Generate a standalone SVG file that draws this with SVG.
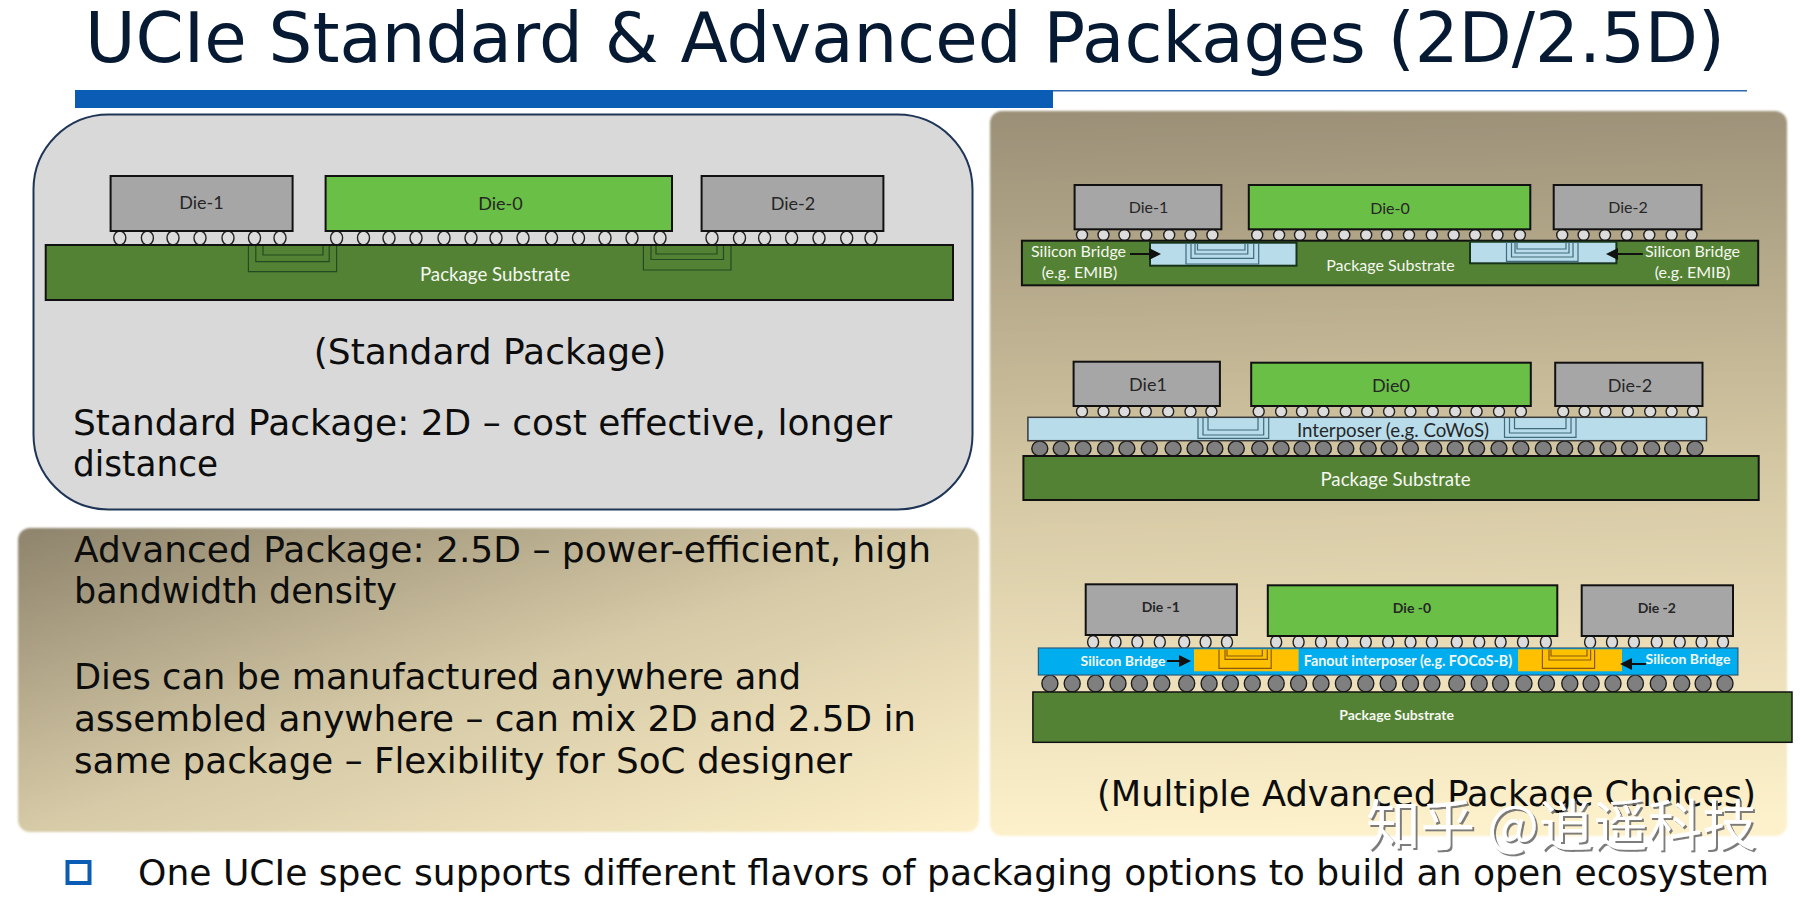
<svg xmlns="http://www.w3.org/2000/svg" width="1801" height="897" viewBox="0 0 1801 897">
<style>
.h{font-family:"DejaVu Sans","Liberation Sans",sans-serif;fill:#0d0d0d;font-size:36px}
.t{font-family:"DejaVu Sans","Liberation Sans",sans-serif;fill:#071a33;font-size:69px}
.l{font-family:Lato,"Open Sans",sans-serif;font-size:18px;text-anchor:middle;dominant-baseline:middle}
.p{font-size:18.7px}
.s{font-size:16px}
.dk{fill:#262626}.wh{fill:#f4f7f0}
.b{font-weight:700;font-size:14px}
.gray{fill:#a6a6a6;stroke:#111;stroke-width:2}
.green{fill:#6abf46;stroke:#111;stroke-width:2}
.sub{fill:#548235;stroke:#111;stroke-width:2}
.bridge{fill:#b8dcea;stroke:#17331a;stroke-width:2}
.bump{fill:#dcdcdc;stroke:#222;stroke-width:1.4}
.big{fill:#7f7f7f;stroke:#1c1c1c;stroke-width:1.4}
.tr{fill:none;stroke:#234a20;stroke-width:1.2}
.tb{fill:none;stroke:#3f6b7a;stroke-width:1.2}
.to{fill:none;stroke:#8a5a10;stroke-width:1.2}
.arr{fill:none;stroke:#111;stroke-width:2;marker-end:url(#ah)}
</style>
<defs>
<linearGradient id="g1" x1="0" y1="0" x2="0.03" y2="1"><stop offset="0" stop-color="#9b9077"/><stop offset="0.5" stop-color="#d3c6a2"/><stop offset="1" stop-color="#fdf1cb"/></linearGradient>
<linearGradient id="g2" x1="0" y1="0" x2="1" y2="1"><stop offset="0" stop-color="#8e846c"/><stop offset="0.5" stop-color="#d6caa7"/><stop offset="1" stop-color="#fdf0c8"/></linearGradient>
<marker id="ah" markerWidth="6" markerHeight="6" refX="5" refY="3" orient="auto" markerUnits="strokeWidth"><path d="M0 0L6 3L0 6z" fill="#111"/></marker>
<filter id="soft" x="-2%" y="-2%" width="104%" height="104%"><feGaussianBlur stdDeviation="1.300"/></filter>
<filter id="wm" x="-5%" y="-10%" width="110%" height="120%"><feDropShadow dx="2" dy="2" stdDeviation="0.6" flood-color="#6e6e6e" flood-opacity="0.9"/></filter>
<ellipse id="s1" class="bump" rx="6" ry="7"/>
<ellipse id="s2" class="bump" rx="5.500" ry="5.500"/>
<ellipse id="s3" class="bump" rx="5.500" ry="6.500"/>
<ellipse id="b2" class="big" rx="8" ry="7.500"/>
<ellipse id="b3" class="big" rx="8" ry="8.500"/>
</defs>
<rect width="1801" height="897" fill="#fff"/>

<g id="title">
<text class="t" x="85" y="62" textLength="1640" lengthAdjust="spacingAndGlyphs">UCIe Standard &amp; Advanced Packages (2D/2.5D)</text>
<rect x="75" y="90" width="978" height="18" fill="#0a5cb5"/>
<rect x="1053" y="90" width="694" height="1.500" fill="#2f68ad"/>
</g>

<g id="panel-standard">
<rect x="33.500" y="114.500" width="939" height="395" rx="75" fill="#d9d9d9" stroke="#1f3557" stroke-width="2"/>
<text class="h" x="490" y="364" text-anchor="middle">(Standard Package)</text>
<text class="h" x="73" y="435" textLength="819" lengthAdjust="spacingAndGlyphs">Standard Package: 2D – cost effective, longer</text>
<text class="h" x="73" y="476" textLength="145" lengthAdjust="spacingAndGlyphs">distance</text>
</g>

<g id="panel-advanced-text">
<rect x="18" y="528" width="961" height="304" rx="12" fill="url(#g2)" filter="url(#soft)"/>
<text class="h" x="74" y="562" textLength="857" lengthAdjust="spacingAndGlyphs">Advanced Package: 2.5D – power-efficient, high</text>
<text class="h" x="74" y="603" textLength="323" lengthAdjust="spacingAndGlyphs">bandwidth density</text>
<text class="h" x="74" y="689" textLength="727" lengthAdjust="spacingAndGlyphs">Dies can be manufactured anywhere and</text>
<text class="h" x="74" y="731" textLength="842" lengthAdjust="spacingAndGlyphs">assembled anywhere – can mix 2D and 2.5D in</text>
<text class="h" x="74" y="773" textLength="778" lengthAdjust="spacingAndGlyphs">same package – Flexibility for SoC designer</text>
</g>

<g id="panel-multiple">
<rect x="990" y="111" width="797" height="725" rx="12" fill="url(#g1)" filter="url(#soft)"/>
<text class="h" x="1097" y="806" textLength="659" lengthAdjust="spacingAndGlyphs">(Multiple Advanced Package Choices)</text>
</g>

<g id="standard-stack">
<g id="std-bumps">
<use href="#s1" x="119.800" y="238"/><use href="#s1" x="147.400" y="238"/><use href="#s1" x="173" y="238"/><use href="#s1" x="200" y="238"/><use href="#s1" x="228" y="238"/><use href="#s1" x="254.500" y="238"/><use href="#s1" x="280" y="238"/>
<use href="#s1" x="336.600" y="238"/><use href="#s1" x="363.500" y="238"/><use href="#s1" x="389" y="238"/><use href="#s1" x="416" y="238"/><use href="#s1" x="444" y="238"/><use href="#s1" x="471" y="238"/><use href="#s1" x="496" y="238"/><use href="#s1" x="523" y="238"/><use href="#s1" x="551.500" y="238"/><use href="#s1" x="578.500" y="238"/><use href="#s1" x="605" y="238"/><use href="#s1" x="632" y="238"/><use href="#s1" x="660" y="238"/>
<use href="#s1" x="712" y="238"/><use href="#s1" x="739.500" y="238"/><use href="#s1" x="764.600" y="238"/><use href="#s1" x="791.600" y="238"/><use href="#s1" x="819" y="238"/><use href="#s1" x="846.700" y="238"/><use href="#s1" x="871" y="238"/>
</g>
<g id="std-die-1"><rect class="gray" x="110.600" y="176" width="182" height="55"/><text class="l dk" x="201.500" y="204">Die-1</text></g>
<g id="std-die-0"><rect class="green" x="325.600" y="176" width="346.400" height="55"/><text class="l dk" x="500.500" y="205">Die-0</text></g>
<g id="std-die-2"><rect class="gray" x="701.600" y="176" width="181.800" height="55"/><text class="l dk" x="793" y="205">Die-2</text></g>
<g id="std-substrate"><rect class="sub" x="45.700" y="245" width="907.300" height="55"/><text class="l wh p" x="495" y="276.500">Package Substrate</text>
<path class="tr" d="M248.400 246V271.700H336.600V246M255.800 246V261.700H329.200V246M263 246V255H323V246"/>
<path class="tr" d="M643.400 246V270H731V246M651 246V259.500H723.500V246M656 246V254H717V246"/>
</g>
</g>

<g id="emib-stack">
<g id="emib-bumps">
<use href="#s2" x="1082" y="235"/><use href="#s2" x="1103.500" y="235"/><use href="#s2" x="1124.400" y="235"/><use href="#s2" x="1146.300" y="235"/><use href="#s2" x="1169.200" y="235"/><use href="#s2" x="1190.500" y="235"/><use href="#s2" x="1212.400" y="235"/>
<use href="#s2" x="1257.200" y="235"/><use href="#s2" x="1279.100" y="235"/><use href="#s2" x="1300" y="235"/><use href="#s2" x="1321.900" y="235"/><use href="#s2" x="1344.300" y="235"/><use href="#s2" x="1366.200" y="235"/><use href="#s2" x="1387" y="235"/><use href="#s2" x="1409" y="235"/><use href="#s2" x="1431.800" y="235"/><use href="#s2" x="1453.700" y="235"/><use href="#s2" x="1475.100" y="235"/><use href="#s2" x="1497.500" y="235"/><use href="#s2" x="1519.900" y="235"/>
<use href="#s2" x="1562.200" y="235"/><use href="#s2" x="1583.600" y="235"/><use href="#s2" x="1605" y="235"/><use href="#s2" x="1626.900" y="235"/><use href="#s2" x="1649.300" y="235"/><use href="#s2" x="1671.600" y="235"/><use href="#s2" x="1691.500" y="235"/>
</g>
<g id="emib-die-1"><rect class="gray" x="1074.600" y="185" width="146.800" height="44.300"/><text class="l dk s" x="1148.500" y="209">Die-1</text></g>
<g id="emib-die-0"><rect class="green" x="1248.800" y="185" width="281.500" height="44.300"/><text class="l dk s" x="1390" y="210">Die-0</text></g>
<g id="emib-die-2"><rect class="gray" x="1553.700" y="185" width="147.800" height="44.300"/><text class="l dk s" x="1628" y="209">Die-2</text></g>
<g id="emib-substrate"><rect class="sub" x="1021.900" y="240.700" width="736.300" height="44.600"/><text class="l wh s" x="1390.500" y="267">Package Substrate</text></g>
<g id="emib-bridge-left"><rect class="bridge" x="1150" y="242.700" width="146.500" height="23"/>
<path class="tb" d="M1186 243V264H1258.700V243M1191 243V258.300H1253.700V243M1195 243V254H1247.800V243M1197.500 243V250H1245V243"/>
<text class="l wh s" x="1078.500" y="253">Silicon Bridge</text><text class="l wh s" x="1079.500" y="274">(e.g. EMIB)</text></g>
<g id="emib-bridge-right"><rect class="bridge" x="1470" y="241.700" width="146.400" height="21.600"/>
<path class="tb" d="M1506.500 242V261.300H1578V242M1511.500 242V257H1573V242M1515 242V253H1569V242M1517 242V249H1566V242"/>
<text class="l wh s" x="1692.500" y="253">Silicon Bridge</text><text class="l wh s" x="1692.500" y="274">(e.g. EMIB)</text></g>
</g>

<g id="cowos-stack">
<g id="cowos-small-bumps">
<use href="#s2" x="1082" y="411.500"/><use href="#s2" x="1103.500" y="411.500"/><use href="#s2" x="1124.400" y="411.500"/><use href="#s2" x="1145.800" y="411.500"/><use href="#s2" x="1168.200" y="411.500"/><use href="#s2" x="1190.500" y="411.500"/><use href="#s2" x="1211.400" y="411.500"/>
<use href="#s2" x="1258.700" y="411.500"/><use href="#s2" x="1281.100" y="411.500"/><use href="#s2" x="1302" y="411.500"/><use href="#s2" x="1323.400" y="411.500"/><use href="#s2" x="1345.800" y="411.500"/><use href="#s2" x="1367.200" y="411.500"/><use href="#s2" x="1389.100" y="411.500"/><use href="#s2" x="1410.400" y="411.500"/><use href="#s2" x="1432.800" y="411.500"/><use href="#s2" x="1455.200" y="411.500"/><use href="#s2" x="1476.600" y="411.500"/><use href="#s2" x="1499" y="411.500"/><use href="#s2" x="1520.900" y="411.500"/>
<use href="#s2" x="1563.200" y="411.500"/><use href="#s2" x="1584.600" y="411.500"/><use href="#s2" x="1605.500" y="411.500"/><use href="#s2" x="1627.900" y="411.500"/><use href="#s2" x="1650.200" y="411.500"/><use href="#s2" x="1671.600" y="411.500"/><use href="#s2" x="1693" y="411.500"/>
</g>
<g id="cowos-big-bumps">
<use href="#b2" x="1039.800" y="448.500"/><use href="#b2" x="1061.200" y="448.500"/><use href="#b2" x="1083.100" y="448.500"/><use href="#b2" x="1105.500" y="448.500"/><use href="#b2" x="1126.900" y="448.500"/><use href="#b2" x="1149.300" y="448.500"/><use href="#b2" x="1173.100" y="448.500"/><use href="#b2" x="1195" y="448.500"/><use href="#b2" x="1214.900" y="448.500"/><use href="#b2" x="1236.300" y="448.500"/><use href="#b2" x="1259.700" y="448.500"/><use href="#b2" x="1281.100" y="448.500"/><use href="#b2" x="1302" y="448.500"/><use href="#b2" x="1323.400" y="448.500"/><use href="#b2" x="1345.800" y="448.500"/><use href="#b2" x="1368.200" y="448.500"/><use href="#b2" x="1389.100" y="448.500"/><use href="#b2" x="1410.400" y="448.500"/><use href="#b2" x="1433.800" y="448.500"/><use href="#b2" x="1455.200" y="448.500"/><use href="#b2" x="1476.600" y="448.500"/><use href="#b2" x="1499" y="448.500"/><use href="#b2" x="1520.900" y="448.500"/><use href="#b2" x="1543.300" y="448.500"/><use href="#b2" x="1564.700" y="448.500"/><use href="#b2" x="1586.100" y="448.500"/><use href="#b2" x="1608" y="448.500"/><use href="#b2" x="1629.400" y="448.500"/><use href="#b2" x="1651.700" y="448.500"/><use href="#b2" x="1672.600" y="448.500"/><use href="#b2" x="1695" y="448.500"/>
</g>
<g id="cowos-die-1"><rect class="gray" x="1073.600" y="361.700" width="146.300" height="44.300"/><text class="l dk" x="1148" y="386">Die1</text></g>
<g id="cowos-die-0"><rect class="green" x="1251.200" y="362.700" width="279.600" height="43.300"/><text class="l dk" x="1391" y="387">Die0</text></g>
<g id="cowos-die-2"><rect class="gray" x="1555.200" y="362.700" width="147.300" height="43.300"/><text class="l dk" x="1630" y="387">Die-2</text></g>
<g id="cowos-interposer"><rect x="1027.900" y="417.300" width="678.600" height="23.400" fill="#b8dcea" stroke="#3a3a3a" stroke-width="1.500"/>
<path class="tb" d="M1198 418V438.300H1268.700V418M1203 418V435H1263.700V418M1208 418V430H1258V418"/>
<path class="tb" d="M1504.500 418V437.300H1576V418M1509.500 418V433H1571V418M1514.500 418V428.700H1566V418"/>
<text class="l dk p" x="1393" y="432.500">Interposer (e.g. CoWoS)</text></g>
<g id="cowos-substrate"><rect class="sub" x="1023.400" y="456" width="735.300" height="44"/><text class="l wh p" x="1395.500" y="481.500">Package Substrate</text></g>
</g>

<g id="focos-stack">
<g id="focos-small-bumps">
<use href="#s3" x="1093.100" y="642"/><use href="#s3" x="1115.500" y="642"/><use href="#s3" x="1137.400" y="642"/><use href="#s3" x="1159.800" y="642"/><use href="#s3" x="1184.200" y="642"/><use href="#s3" x="1205.600" y="642"/><use href="#s3" x="1227" y="642"/>
<use href="#s3" x="1276.200" y="642"/><use href="#s3" x="1298.600" y="642"/><use href="#s3" x="1321" y="642"/><use href="#s3" x="1342.400" y="642"/><use href="#s3" x="1365.800" y="642"/><use href="#s3" x="1388.200" y="642"/><use href="#s3" x="1410.500" y="642"/><use href="#s3" x="1431.900" y="642"/><use href="#s3" x="1456.800" y="642"/><use href="#s3" x="1479.200" y="642"/><use href="#s3" x="1500.600" y="642"/><use href="#s3" x="1523" y="642"/><use href="#s3" x="1545.900" y="642"/>
<use href="#s3" x="1590.100" y="642"/><use href="#s3" x="1612" y="642"/><use href="#s3" x="1633.900" y="642"/><use href="#s3" x="1656.800" y="642"/><use href="#s3" x="1679.700" y="642"/><use href="#s3" x="1701.600" y="642"/><use href="#s3" x="1723" y="642"/>
</g>
<g id="focos-big-bumps">
<use href="#b3" x="1049.900" y="683.500"/><use href="#b3" x="1072.200" y="683.500"/><use href="#b3" x="1095.600" y="683.500"/><use href="#b3" x="1118" y="683.500"/><use href="#b3" x="1139.400" y="683.500"/><use href="#b3" x="1161.800" y="683.500"/><use href="#b3" x="1186.700" y="683.500"/><use href="#b3" x="1209.100" y="683.500"/><use href="#b3" x="1230.400" y="683.500"/><use href="#b3" x="1252.300" y="683.500"/><use href="#b3" x="1276.200" y="683.500"/><use href="#b3" x="1298.600" y="683.500"/><use href="#b3" x="1321" y="683.500"/><use href="#b3" x="1343.400" y="683.500"/><use href="#b3" x="1365.800" y="683.500"/><use href="#b3" x="1388.200" y="683.500"/><use href="#b3" x="1410.500" y="683.500"/><use href="#b3" x="1431.900" y="683.500"/><use href="#b3" x="1456.800" y="683.500"/><use href="#b3" x="1479.200" y="683.500"/><use href="#b3" x="1500.600" y="683.500"/><use href="#b3" x="1524" y="683.500"/><use href="#b3" x="1546.400" y="683.500"/><use href="#b3" x="1569.800" y="683.500"/><use href="#b3" x="1591.100" y="683.500"/><use href="#b3" x="1613" y="683.500"/><use href="#b3" x="1635.400" y="683.500"/><use href="#b3" x="1658.300" y="683.500"/><use href="#b3" x="1681.700" y="683.500"/><use href="#b3" x="1703.100" y="683.500"/><use href="#b3" x="1725" y="683.500"/>
</g>
<g id="focos-die-1"><rect class="gray" x="1085.700" y="584.300" width="151.200" height="50.700"/><text class="l dk b" x="1160.800" y="608">Die -1</text></g>
<g id="focos-die-0"><rect class="green" x="1267.800" y="585.300" width="289.500" height="50.700"/><text class="l dk b" x="1412" y="609.500">Die -0</text></g>
<g id="focos-die-2"><rect class="gray" x="1581.700" y="585.300" width="151.300" height="50.700"/><text class="l dk b" x="1656.800" y="609.500">Die -2</text></g>
<g id="focos-fanout"><rect x="1038.400" y="648" width="699.500" height="27" fill="#00aeef" stroke="#2a5a7a" stroke-width="1.200"/>
<rect x="1194" y="649.300" width="104.600" height="22" fill="#ffc000"/>
<rect x="1518" y="649.300" width="104" height="22" fill="#ffc000"/>
<path class="to" d="M1219 649.500V668.300H1271.200V649.500M1225 649.500V659.300H1267.300V649.500M1227 649.500V656H1262.300V649.500"/>
<path class="to" d="M1542.400 649.500V668.300H1594.600V649.500M1549 649.500V660H1590.600V649.500M1551 649.500V656H1587V649.500"/>
<text class="l wh b" x="1123" y="662">Silicon Bridge</text>
<text class="l wh b" style="font-size:14.300px" x="1408" y="662">Fanout interposer (e.g. FOCoS-B)</text>
<text class="l wh b" x="1688" y="660.500">Silicon Bridge</text></g>
<g id="focos-substrate"><rect x="1032.900" y="692" width="759.100" height="50.300" fill="#548235" stroke="#111" stroke-width="1.500"/><text class="l wh b" x="1396.600" y="716.500">Package Substrate</text></g>
</g>

<g id="connectors">
<path class="arr" d="M1130 254H1159"/>
<path class="arr" d="M1642.800 254H1608"/>
<path class="arr" d="M1167 661H1189"/>
<path class="arr" d="M1646 664H1622"/>
</g>

<g id="bottom-note">
<rect x="67.500" y="862" width="22" height="21" fill="none" stroke="#0a5cb5" stroke-width="4"/>
<text class="h" x="138" y="885" textLength="1631" lengthAdjust="spacingAndGlyphs">One UCIe spec supports different flavors of packaging options to build an open ecosystem</text>
</g>

<g id="watermark">
<text x="1366" y="845" font-family="Noto Sans CJK SC,sans-serif" font-size="54.500" fill="#ffffff" filter="url(#wm)">知乎 @逍遥科技</text>
</g>
</svg>
